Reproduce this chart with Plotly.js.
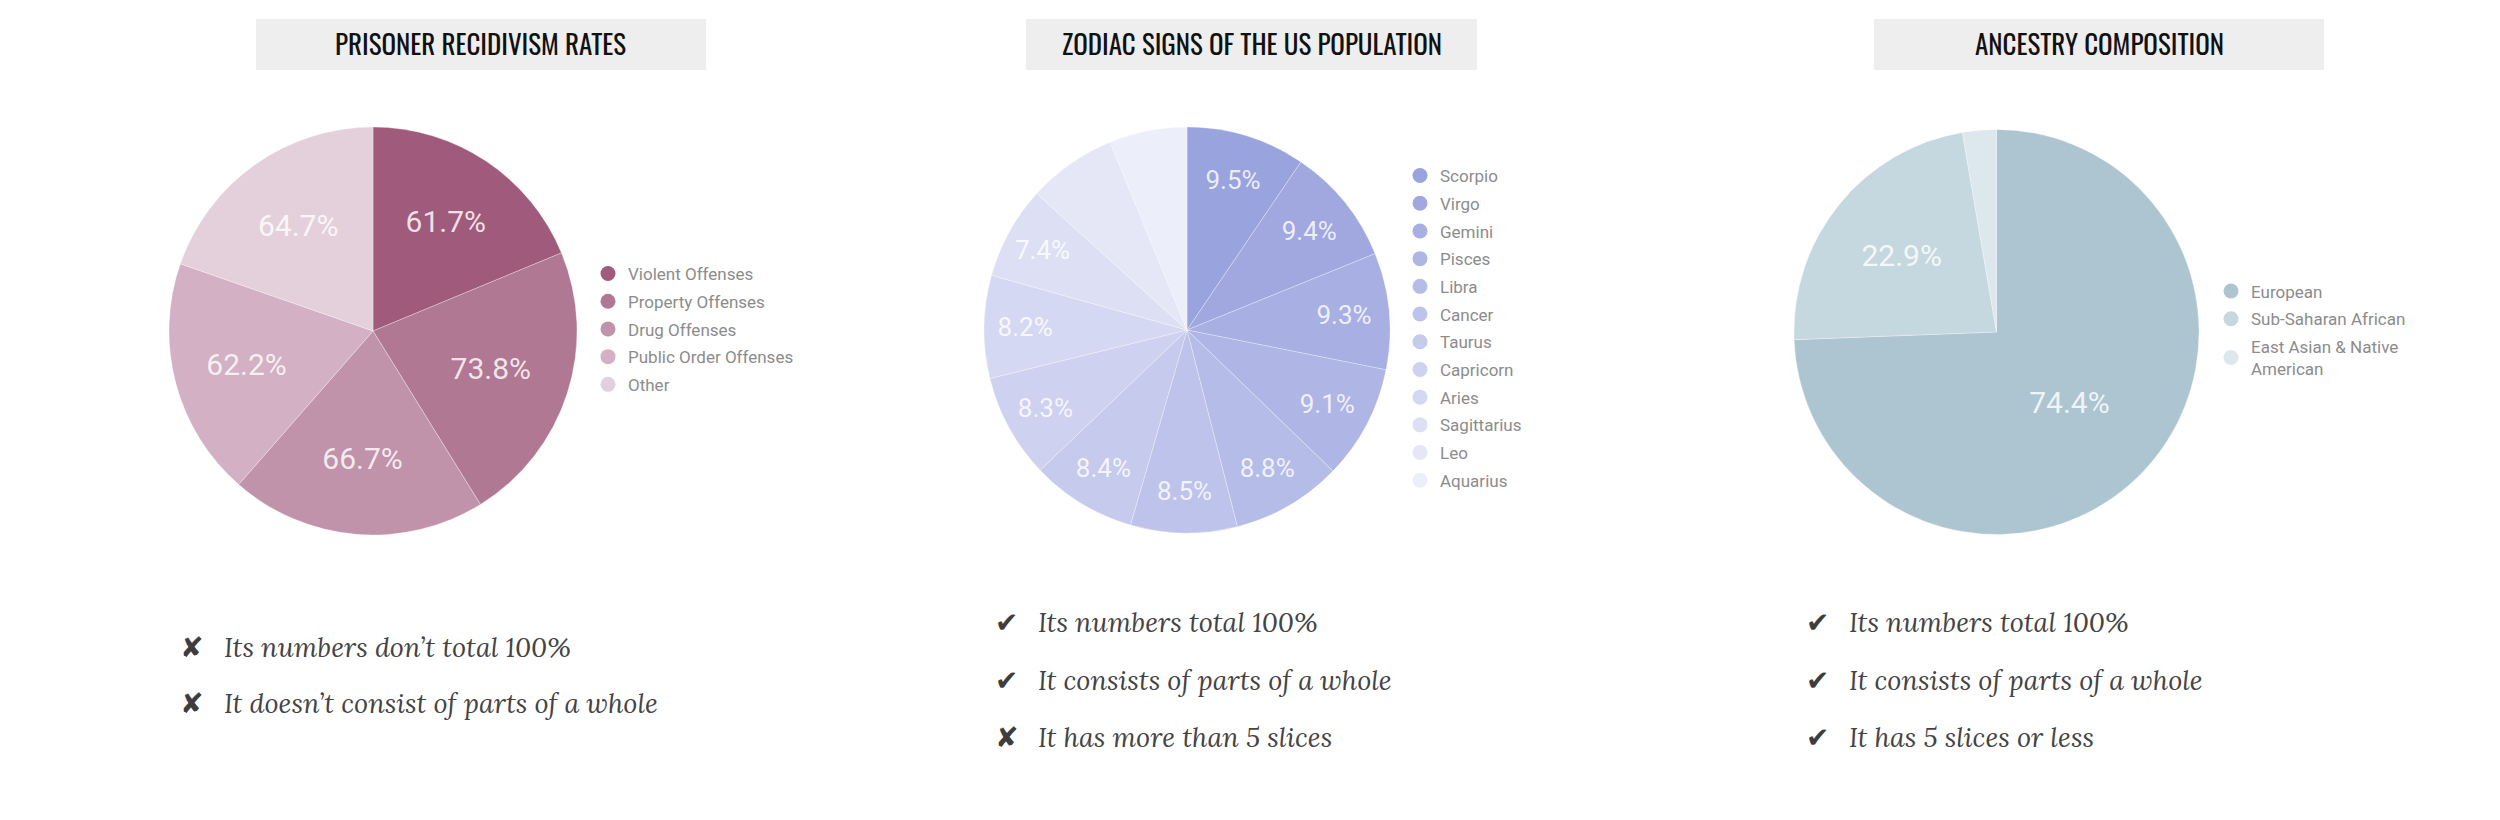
<!DOCTYPE html>
<html><head><meta charset="utf-8">
<script src="https://cdn.plot.ly/plotly-3.0.1.min.js"></script>
<style>html,body{margin:0;padding:0;background:#fff;} #chart{width:2500px;height:820px;}</style>
</head><body><div id="chart"></div>
<script>
const W = 2500, H = 820;

// ---- Chart 1: Prisoner recidivism rates ----
const recidTitle = "PRISONER RECIDIVISM RATES";
const recidLabels = ["Violent Offenses", "Property Offenses", "Drug Offenses", "Public Order Offenses", "Other"];
const recidValues = [61.7, 73.8, 66.7, 62.2, 64.7];
const recidColors = ["#a05a7b", "#b07893", "#c193aa", "#d3b0c3", "#e4d0db"];
const recidNotes = ["Its numbers don’t total 100%", "It doesn’t consist of parts of a whole"];
const recidChecks = [false, false];

// ---- Chart 2: Zodiac signs ----
const zodiacTitle = "ZODIAC SIGNS OF THE US POPULATION";
const zodiacLabels = ["Scorpio", "Virgo", "Gemini", "Pisces", "Libra", "Cancer", "Taurus", "Capricorn", "Aries", "Sagittarius", "Leo", "Aquarius"];
const zodiacValues = [9.5, 9.4, 9.3, 9.1, 8.8, 8.5, 8.4, 8.3, 8.2, 7.4, 7.1, 6.2];
const zodiacColors = ["#99a3de", "#a0a8df", "#a7afe3", "#afb5e5", "#b6bce8", "#bec3eb", "#c6caec", "#ced1ef", "#d5d8f2", "#dde0f5", "#e5e7f7", "#eceefa"];
const zodiacNotes = ["Its numbers total 100%", "It consists of parts of a whole", "It has more than 5 slices"];
const zodiacChecks = [true, true, false];

// ---- Chart 3: Ancestry composition ----
const ancestryTitle = "ANCESTRY COMPOSITION";
const ancestryLabels = ["European", "Sub-Saharan African", "East Asian & Native<br>American"];
const ancestryValues = [74.4, 22.9, 2.7];
const ancestryColors = ["#adc5d1", "#c5d7df", "#dde7ee"];
const ancestryNotes = ["Its numbers total 100%", "It consists of parts of a whole", "It has 5 slices or less"];
const ancestryChecks = [true, true, true];

// ---- layout helpers (pixel -> paper) ----
const px = x => x / W;
const py = y => 1 - y / H;

const charts = [
  {title: recidTitle, labels: recidLabels, values: recidValues, colors: recidColors, notes: recidNotes, checks: recidChecks,
   minLabel: 5, textSize: 30, legend: 'legend',
   pie: {x0: 169, x1: 577, y0: 127, y1: 535}, box: {x0: 256, x1: 706},
   leg: {x: 588, y: 329}, notesY: [647, 703], iconX: 192, textX: 222},
  {title: zodiacTitle, labels: zodiacLabels, values: zodiacValues, colors: zodiacColors, notes: zodiacNotes, checks: zodiacChecks,
   minLabel: 7.3, textSize: 26, legend: 'legend2',
   pie: {x0: 984, x1: 1390, y0: 127, y1: 533}, box: {x0: 1026, x1: 1477},
   leg: {x: 1400, y: 328}, notesY: [622, 680, 737], iconX: 1006, textX: 1036},
  {title: ancestryTitle, labels: ancestryLabels, values: ancestryValues, colors: ancestryColors, notes: ancestryNotes, checks: ancestryChecks,
   minLabel: 5, textSize: 30, legend: 'legend3',
   pie: {x0: 1794, x1: 2199, y0: 129, y1: 535}, box: {x0: 1874, x1: 2324},
   leg: {x: 2211, y: 330}, notesY: [622, 680, 737], iconX: 1817, textX: 1847}
];

const data = [];
const shapes = [];
const annotations = [];
const layout = {
  width: W, height: H,
  margin: {l: 0, r: 0, t: 0, b: 0},
  paper_bgcolor: '#ffffff', plot_bgcolor: '#ffffff',
  xaxis: {visible: false}, yaxis: {visible: false},
  showlegend: true,
  shapes: shapes, annotations: annotations
};

const titleFont = {family: "Oswald, 'Liberation Sans Narrow', 'Arial Narrow', 'DejaVu Sans Condensed', sans-serif", size: 27, color: '#111111'};
const noteFont = {family: "Lora, 'Liberation Serif', 'DejaVu Serif', serif", size: 27, color: '#444444', style: 'italic'};
const iconFont = {family: "'DejaVu Sans', sans-serif", size: 28, color: '#3d3d3d'};

charts.forEach(c => {
  data.push({
    type: 'pie', sort: false, direction: 'clockwise', rotation: 0,
    labels: c.labels, values: c.values,
    marker: {colors: c.colors, line: {color: 'rgba(255,255,255,0.5)', width: 0.6}},
    domain: {x: [px(c.pie.x0), px(c.pie.x1)], y: [py(c.pie.y1), py(c.pie.y0)]},
    texttemplate: c.values.map(v => v >= c.minLabel ? '%{value}%' : ''),
    textposition: 'inside', insidetextorientation: 'horizontal',
    textfont: {family: "Roboto, 'Noto Sans', sans-serif", size: c.textSize, color: 'rgba(255,255,255,0.82)'},
    hoverinfo: 'label+value', showlegend: false
  });
  c.labels.forEach((l, i) => {
    data.push({
      type: 'scatter', mode: 'markers', x: [null], y: [null],
      name: l, legend: c.legend, legendgroup: c.legend + '_' + i,
      marker: {color: c.colors[i], size: 15, symbol: 'circle'},
      hoverinfo: 'skip', showlegend: true
    });
  });
  layout[c.legend] = {
    x: px(c.leg.x), y: py(c.leg.y), xanchor: 'left', yanchor: 'middle',
    font: {family: "Roboto, 'Noto Sans', sans-serif", size: 17, color: '#8c8c8c'},
    bgcolor: 'rgba(0,0,0,0)', tracegroupgap: 2.6, traceorder: 'grouped', itemclick: false
  };
  shapes.push({type: 'rect', xref: 'paper', yref: 'paper', x0: px(c.box.x0), x1: px(c.box.x1), y0: py(70), y1: py(19),
    fillcolor: '#eeeeee', line: {width: 0}, layer: 'below'});
  annotations.push({xref: 'paper', yref: 'paper', x: px((c.box.x0 + c.box.x1) / 2), y: py(43), xanchor: 'center', yanchor: 'middle',
    text: c.title, showarrow: false, font: titleFont});
  c.notes.forEach((n, i) => {
    annotations.push({xref: 'paper', yref: 'paper', x: px(c.iconX), y: py(c.notesY[i]), xanchor: 'center', yanchor: 'middle',
      text: c.checks[i] ? '✔' : '✘', showarrow: false, font: iconFont});
    annotations.push({xref: 'paper', yref: 'paper', x: px(c.textX), y: py(c.notesY[i]), xanchor: 'left', yanchor: 'middle',
      text: n, showarrow: false, font: noteFont});
  });
});

Plotly.newPlot('chart', data, layout, {staticPlot: true, displayModeBar: false});
</script>
</body></html>
